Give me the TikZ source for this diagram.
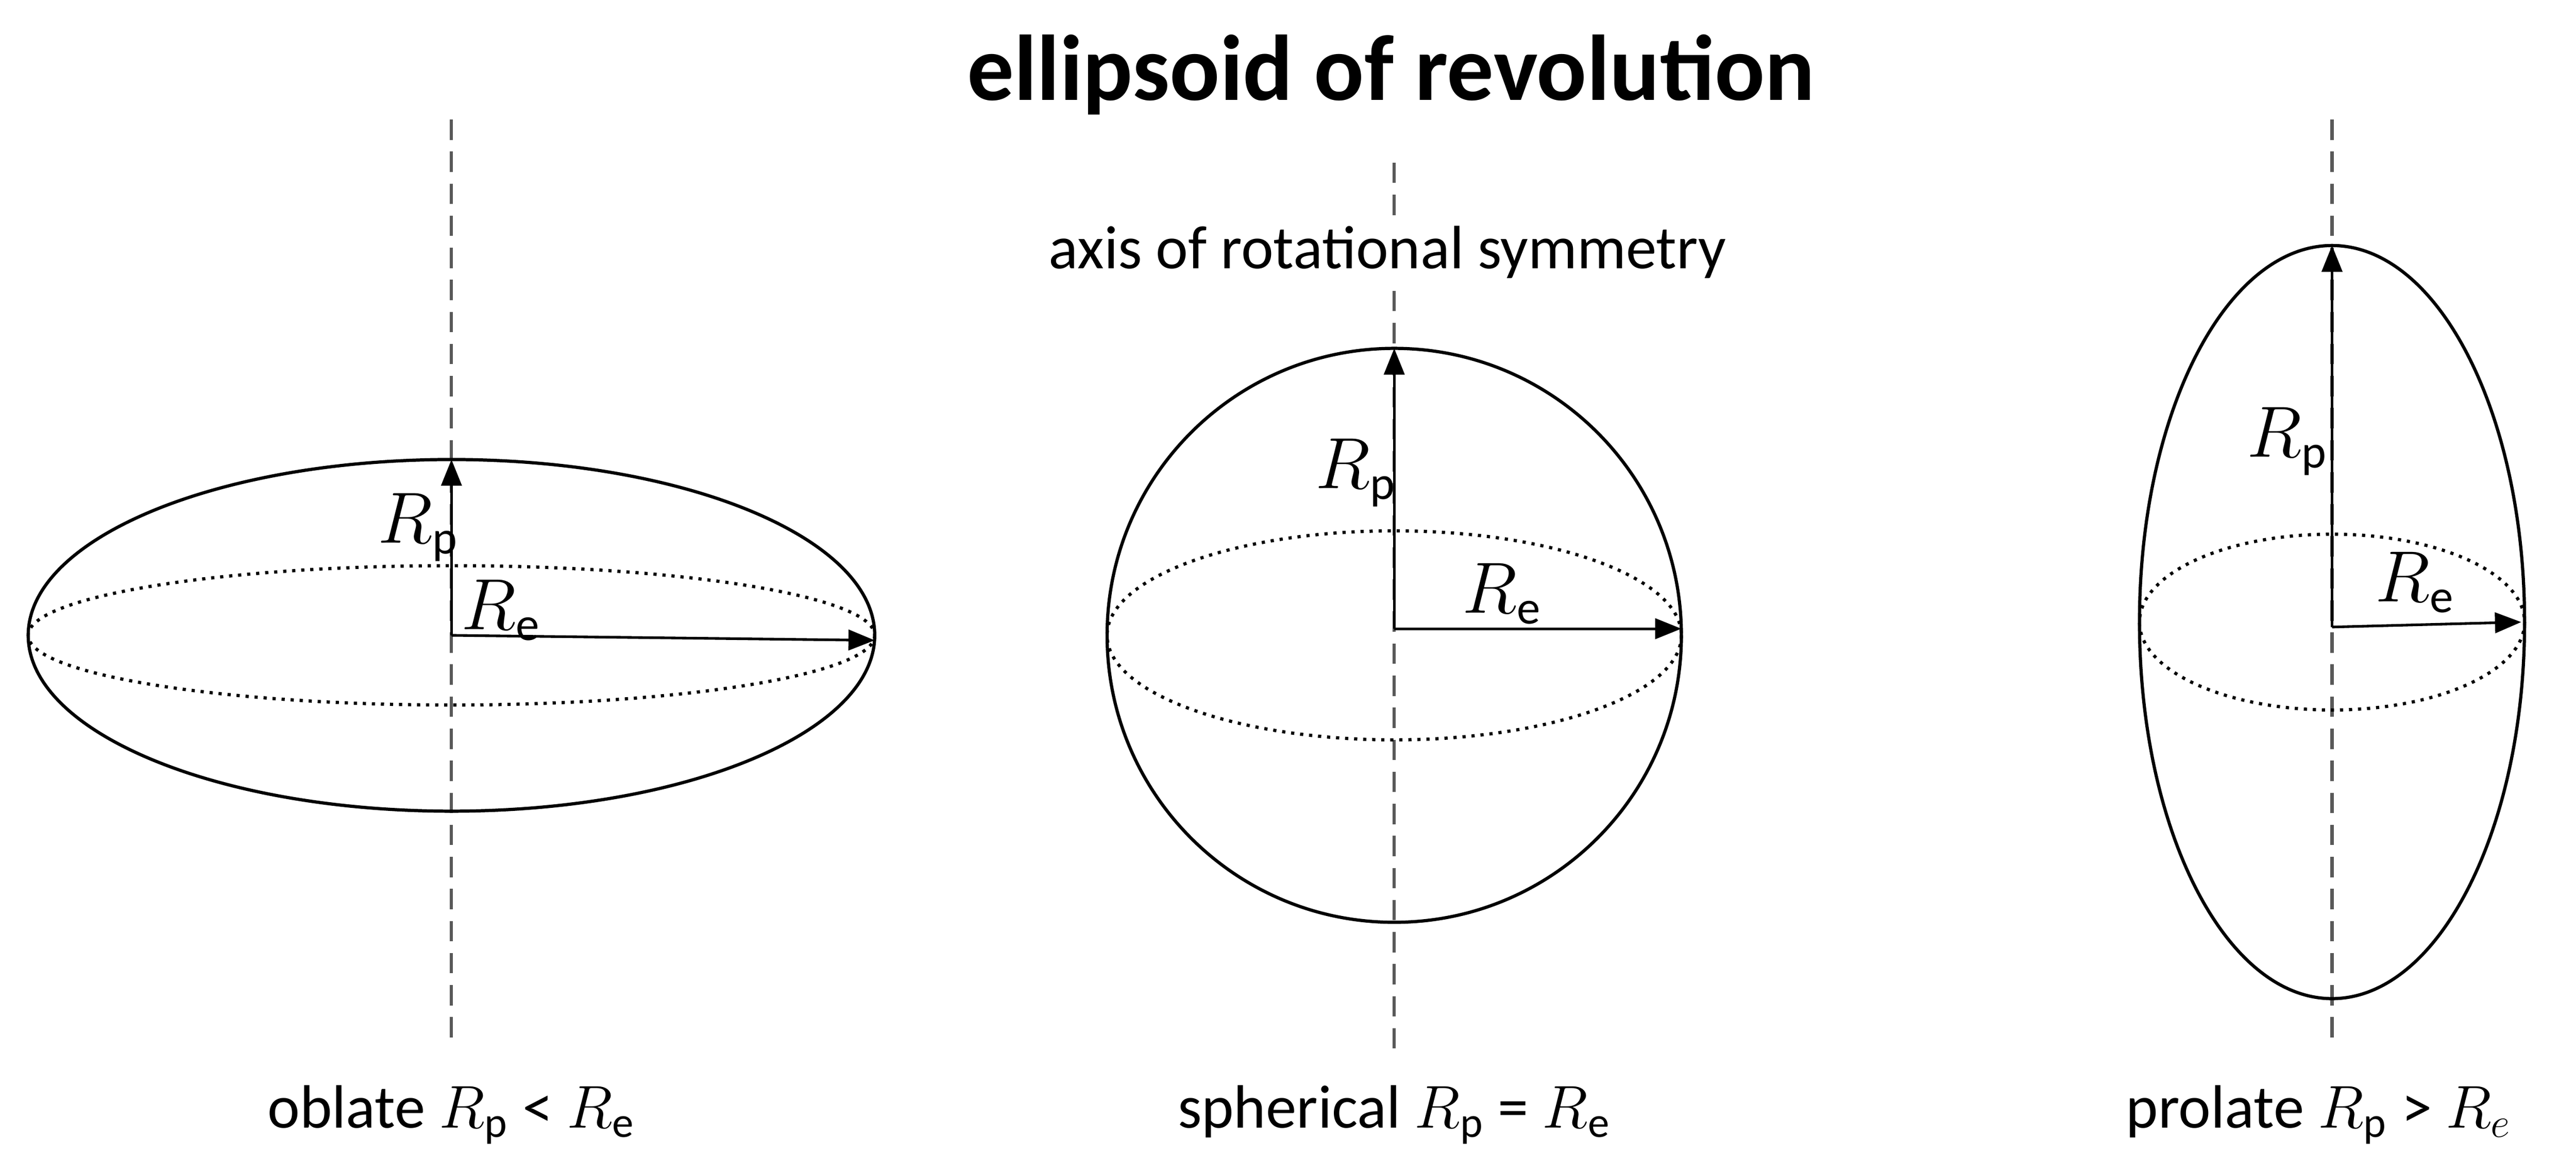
\documentclass[tikz,border=0pt]{standalone}
\usepackage{fontspec}
\setmainfont{Carlito}
\usetikzlibrary{arrows.meta}
\begin{document}
\begin{tikzpicture}[x=0.02cm,y=-0.02cm,
  outline/.style={line width=1.1pt},
  eqline/.style={line width=1.1pt,dotted},
  axisline/.style={line width=1.1pt,gray!70!black,dash pattern=on 7pt off 4pt},
  radarrow/.style={line width=0.9pt,-{Triangle[length=9pt,width=7pt]}},
  lbl/.style={font=\fontsize{21}{24}\selectfont,inner sep=0pt},
  rl/.style={font=\fontsize{23}{26}\selectfont,inner sep=0pt}]
\useasboundingbox (0,0) rectangle (1552,698);
\node[font=\fontsize{32}{36}\selectfont\bfseries] (title) at (838,45) {ellipsoid of revolution};
% oblate
\coordinate (oc) at (272,383);
\coordinate (ot) at (272,72); \coordinate (ob) at (272,632);
\draw[axisline] (ot) -- (ob);
\draw[outline] (oc) ellipse [x radius=255,y radius=106];
\draw[eqline] (oc) ellipse [x radius=255,y radius=42];
\coordinate (op) at (272,277); \coordinate (oe) at (527,386);
\draw[radarrow] (oc) -- (op);
\draw[radarrow] (oc) -- (oe);
\node[rl] (orp) at (252,318) {$R$\textsubscript{p}};
\node[rl] (ore) at (302,368) {$R$\textsubscript{e}};
\node[lbl] (ol) at (272,672) {oblate $R$\textsubscript{p} < $R$\textsubscript{e}};
% sphere
\coordinate (sc) at (840,383);
\coordinate (st) at (840,98); \coordinate (sb) at (840,632);
\draw[axisline] (st) -- (sb);
\draw[outline] (sc) circle [radius=173];
\draw[eqline] (sc) ellipse [x radius=173,y radius=63];
\coordinate (s0) at (840,379);
\coordinate (sp) at (840,210); \coordinate (se) at (1013,379);
\draw[radarrow] (s0) -- (sp);
\draw[radarrow] (s0) -- (se);
\node[rl] (srp) at (817,285) {$R$\textsubscript{p}};
\node[rl] (sre) at (905,358) {$R$\textsubscript{e}};
\node[lbl,fill=white,inner sep=2pt] (ax) at (836,152) {axis of rotational symmetry};
\node[lbl] (sl) at (840,672) {spherical $R$\textsubscript{p} = $R$\textsubscript{e}};
% prolate
\coordinate (pc) at (1405,375);
\coordinate (pt) at (1405,72); \coordinate (pb) at (1405,632);
\draw[axisline] (pt) -- (pb);
\draw[outline] (pc) ellipse [x radius=116,y radius=227];
\draw[eqline] (pc) ellipse [x radius=116,y radius=53];
\coordinate (p0) at (1405,378);
\coordinate (pp) at (1405,148); \coordinate (pe) at (1519,375);
\draw[radarrow] (p0) -- (pp);
\draw[radarrow] (p0) -- (pe);
\node[rl] (prp) at (1378,266) {$R$\textsubscript{p}};
\node[rl] (pre) at (1455,351) {$R$\textsubscript{e}};
\node[lbl] (pl) at (1397,672) {prolate $R$\textsubscript{p} > $R_e$};
\end{tikzpicture}
\end{document}
